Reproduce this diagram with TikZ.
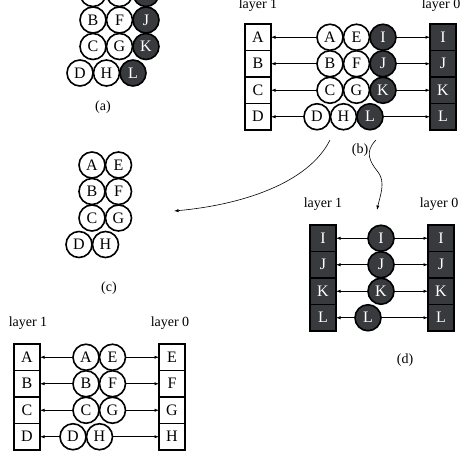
\documentclass[tikz,border=0pt]{standalone}
\usepackage{fontspec}
\setmainfont{Liberation Serif}
\usetikzlibrary{positioning,arrows.meta}
\definecolor{darkfill}{RGB}{56,58,61}

\begin{document}
\begin{tikzpicture}[x=1pt,y=-1pt,
  ball/.style={circle,draw,line width=1.6pt,minimum size=26pt,inner sep=0pt,outer sep=0pt,font=\fontsize{16}{18}\selectfont},
  darkball/.style={ball,fill=darkfill,text=white},
  cell/.style={draw,line width=1.6pt,minimum height=26.5pt,minimum width=26pt,inner sep=0pt,outer sep=0pt,font=\fontsize{16}{18}\selectfont},
  darkcell/.style={cell,fill=darkfill,text=white},
  link/.style={-{Latex[length=4.5pt,width=3.2pt]},line width=0.6pt},
  lbl/.style={font=\fontsize{14}{16}\selectfont,anchor=base},
  caption/.style={font=\fontsize{14}{16}\selectfont}]
\clip (0,0) rectangle (474,474);

% (a)
\foreach \s/\t/\u[count=\i from 0] in {A/E/I,B/F/J,C/G/K,D/H/L}{
  \pgfmathsetmacro\dx{\i==3?-13:0}
  \node[ball] (a\s) at (93+\dx,-6.5+26.5*\i) {\s};
  \node[ball,right=0.5pt of a\s] (a\t) {\t};
  \node[darkball,right=0.5pt of a\t] (a\u) {\u};
}
\node[caption] (capa) at (103,107) {(a)};

% (b)
\foreach \s/\t/\u[count=\i from 0] in {A/E/I,B/F/J,C/G/K,D/H/L}{
  \pgfmathsetmacro\dx{\i==3?-13:0}
  \node[ball] (b\s) at (330+\dx,37.25+26.5*\i) {\s};
  \node[ball,right=0.5pt of b\s] (b\t) {\t};
  \node[darkball,right=0.5pt of b\t] (b\u) {\u};
  \node[cell] (b1\s) at (258,37.25+26.5*\i) {\s};
  \node[darkcell] (b0\u) at (443,37.25+26.5*\i) {\u};
  \draw[link] (b\s) -- (b1\s);
  \draw[link] (b\u) -- (b0\u);
}
\node[lbl] (blab1) at (258,8) {layer 1};
\node[lbl] (blab0) at (441,8) {layer 0};
\node[caption] (capb) at (360,150) {(b)};

% arrows out of (b)
\coordinate (bout1) at (330,140);
\coordinate (cin) at (174,211);
\coordinate (bout2) at (376,140);
\coordinate (din) at (377,210);
\draw[link] (bout1) .. controls (308,184) and (240,205) .. (cin);
\draw[link] (bout2) .. controls (364,152) and (370,162) .. (378,172)
  .. controls (386,182) and (380,196) .. (din);

% (c)
\foreach \s/\t[count=\i from 0] in {A/E,B/F,C/G,D/H}{
  \pgfmathsetmacro\dx{\i==3?-13:0}
  \node[ball] (c\s) at (92+\dx,165+26.5*\i) {\s};
  \node[ball,right=0.5pt of c\s] (c\t) {\t};
}
\node[caption] (capc) at (109,288) {(c)};

% (d)
\foreach \u[count=\i from 0] in {I,J,K,L}{
  \pgfmathsetmacro\dx{\i==3?-13:0}
  \node[darkball] (d\u) at (381+\dx,238.25+26.5*\i) {\u};
  \node[darkcell] (d1\u) at (323,238.25+26.5*\i) {\u};
  \node[darkcell] (d0\u) at (441,238.25+26.5*\i) {\u};
  \draw[link] (d\u) -- (d1\u);
  \draw[link] (d\u) -- (d0\u);
}
\node[lbl] (dlab1) at (323,207) {layer 1};
\node[lbl] (dlab0) at (439,207) {layer 0};
\node[caption] (capd) at (405,360) {(d)};

% (e)
\foreach \s/\t[count=\i from 0] in {A/E,B/F,C/G,D/H}{
  \pgfmathsetmacro\dx{\i==3?-13:0}
  \node[ball] (e\s) at (86+\dx,357.25+26.5*\i) {\s};
  \node[ball,right=0.5pt of e\s] (e\t) {\t};
  \node[cell] (e1\s) at (27,357.25+26.5*\i) {\s};
  \node[cell] (e0\t) at (172,357.25+26.5*\i) {\t};
  \draw[link] (e\s) -- (e1\s);
  \draw[link] (e\t) -- (e0\t);
}
\node[lbl] (elab1) at (28,326) {layer 1};
\node[lbl] (elab0) at (170,326) {layer 0};
\end{tikzpicture}
\end{document}
